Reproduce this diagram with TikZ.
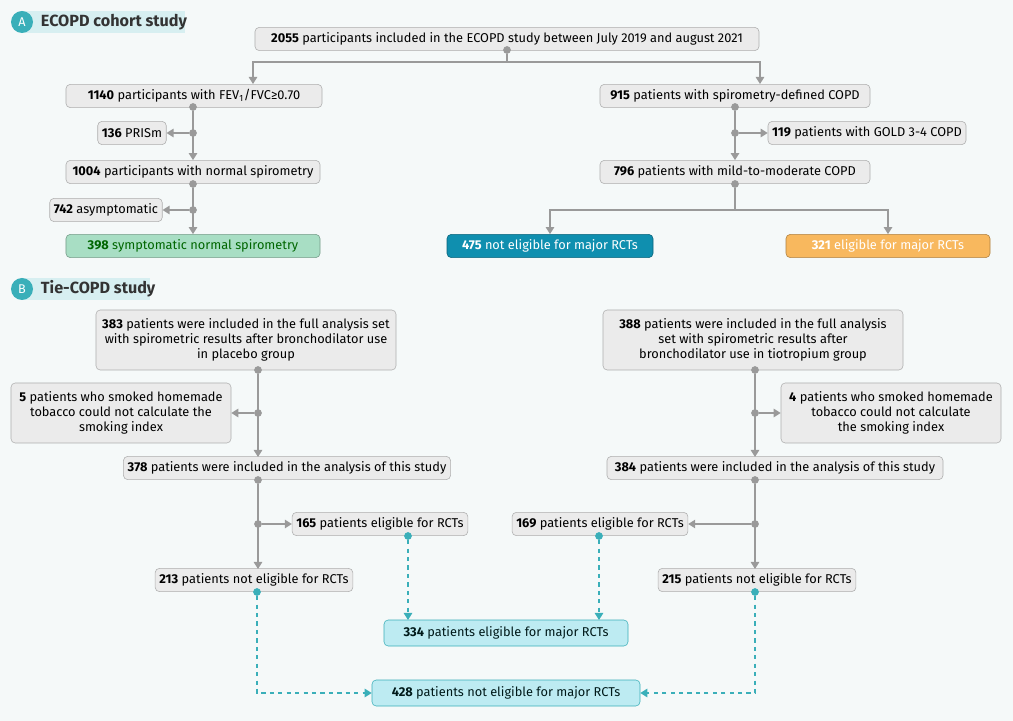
\documentclass[tikz,border=0pt]{standalone}
\usepackage{fontspec}
\setmainfont{Fira Sans}
\usepackage{tikz}
\usetikzlibrary{arrows.meta, positioning}
\definecolor{bgc}{HTML}{F5F9F9}
\definecolor{boxc}{HTML}{EBEBEB}
\definecolor{linec}{HTML}{9A9A9A}
\definecolor{tealc}{HTML}{3AAFB9}
\definecolor{greenc}{HTML}{A8DEC4}
\definecolor{darkc}{HTML}{0F8FAF}
\definecolor{orangec}{HTML}{F8B85E}
\definecolor{cyanc}{HTML}{BDEBF2}
\begin{document}
\begin{tikzpicture}[
    x=0.25mm, y=-0.25mm,
    box/.style={draw=linec!80, fill=boxc, rectangle, rounded corners=3pt, align=center, font=\fontsize{9.1}{10.6}\selectfont, minimum height=5.8mm, inner xsep=3pt},
    arrow/.style={-{Triangle[length=5pt,width=6pt]}, draw=linec, line width=1pt},
    tdash/.style={-{Triangle[length=5pt,width=6pt]}, draw=tealc, line width=1pt, dashed},
    dot/.style={circle, fill=linec, inner sep=0pt, minimum size=5.5pt},
    tdot/.style={circle, fill=tealc, inner sep=0pt, minimum size=5.5pt},
    head/.style={circle, fill=tealc, text=white, inner sep=0pt, minimum size=5.5mm, font=\small},
]
\fill[bgc] (0,0) rectangle (1013,721);
\useasboundingbox (0,0) rectangle (1013,721);

% Headers
\fill[tealc!20] (22,11) rectangle (185,33);
\node[head] (ha) at (22,22) {A};
\node[anchor=west, font=\bfseries\fontsize{11.5}{13}\selectfont, text=black!80] (ta) at (36,22) {ECOPD cohort study};
\fill[tealc!20] (22,278) rectangle (150,300);
\node[head] (hb) at (22,289) {B};
\node[anchor=west, font=\bfseries\fontsize{11.5}{13}\selectfont, text=black!80] (tb) at (36,289) {Tie-COPD study};

% Part A
\node[box, minimum width=126mm] (top) at (507,39) {\textbf{2055} participants included in the ECOPD study between July 2019 and august 2021};
\node[box, minimum width=64mm] (p1140) at (194,96) {\textbf{1140} participants with FEV\textsubscript{1}/FVC≥0.70};
\node[box] (prism) at (132,133) {\textbf{136} PRISm};
\node[box, minimum width=63.5mm] (p1004) at (193,172) {\textbf{1004} participants with normal spirometry};
\node[box] (asym) at (106,210) {\textbf{742} asymptomatic};
\node[box, minimum width=63.5mm, fill=greenc, draw=greenc!70!black, text=green!40!black] (sym) at (193,246) {\textbf{398} symptomatic normal spirometry};
\node[box, minimum width=67.5mm] (p915) at (735,96) {\textbf{915} patients with spirometry-defined COPD};
\node[box] (gold) at (867,133) {\textbf{119} patients with GOLD 3-4 COPD};
\node[box, minimum width=67.5mm] (p796) at (735,172) {\textbf{796} patients with mild-to-moderate COPD};
\node[box, minimum width=51.5mm, fill=darkc, draw=darkc!70!black, text=white] (ne475) at (550,246) {\textbf{475} not eligible for major RCTs};
\node[box, minimum width=51mm, fill=orangec, draw=orangec!70!black, text=white] (el321) at (888,246) {\textbf{321} eligible for major RCTs};

\node[dot] (d0) at (507,50) {};
\draw[arrow] (d0) -- (507,62) -| (253,84);
\draw[arrow] (d0) -- (507,62) -| (760,84);
\node[dot] (d1) at (193,107) {};
\node[dot] (d2) at (193,133) {};
\draw[arrow] (d1) -- (p1004);
\draw[arrow] (d2) -- (prism);
\node[dot] (d3) at (193,184) {};
\node[dot] (d4) at (193,210) {};
\draw[arrow] (d3) -- (sym);
\draw[arrow] (d4) -- (asym);
\node[dot] (d5) at (735,107) {};
\node[dot] (d6) at (735,133) {};
\draw[arrow] (d5) -- (p796);
\draw[arrow] (d6) -- (gold);
\node[dot] (d7) at (735,184) {};
\draw[arrow] (d7) -- (735,210) -| (ne475);
\draw[arrow] (d7) -- (735,210) -| (el321);

% Part B
\node[box, minimum width=75mm, minimum height=15mm] (p383) at (246,340) {\textbf{383} patients were included in the full analysis set\\with spirometric results after bronchodilator use\\in placebo group};
\node[box, minimum width=55mm, minimum height=15mm] (ex5) at (121,413) {\textbf{5} patients who smoked homemade\\tobacco could not calculate the\\smoking index};
\node[box, minimum width=69mm] (p378) at (287,468) {\textbf{378} patients were included in the analysis of this study};
\node[box] (el165) at (380,524) {\textbf{165} patients eligible for RCTs};
\node[box] (ne213) at (254,580) {\textbf{213} patients not eligible for RCTs};
\node[box, minimum width=75mm, minimum height=15mm] (p388) at (753,340) {\textbf{388} patients were included in the full analysis\\set with spirometric results after\\bronchodilator use in tiotropium group};
\node[box, minimum width=55mm, minimum height=15mm] (ex4) at (891,413) {\textbf{4} patients who smoked homemade\\tobacco could not calculate\\the smoking index};
\node[box, minimum width=84mm] (p384) at (775,468) {\textbf{384} patients were included in the analysis of this study};
\node[box] (el169) at (600,524) {\textbf{169} patients eligible for RCTs};
\node[box] (ne215) at (757,580) {\textbf{215} patients not eligible for RCTs};
\node[box, minimum width=61mm, minimum height=6.5mm, fill=cyanc, draw=tealc, text=black!80!teal] (el334) at (506,633) {\textbf{334} patients eligible for major RCTs};
\node[box, minimum width=67mm, minimum height=6.5mm, fill=cyanc, draw=tealc, text=black!80!teal] (ne428) at (506,693) {\textbf{428} patients not eligible for major RCTs};

\node[dot] (b1) at (258,370) {};
\node[dot] (b2) at (258,413) {};
\draw[arrow] (b1) -- (258,457);
\draw[arrow] (b2) -- (ex5);
\node[dot] (b3) at (258,480) {};
\node[dot] (b4) at (258,524) {};
\draw[arrow] (b3) -- (258,569);
\draw[arrow] (b4) -- (el165);
\node[dot] (b5) at (755,370) {};
\node[dot] (b6) at (755,413) {};
\draw[arrow] (b5) -- (755,457);
\draw[arrow] (b6) -- (ex4);
\node[dot] (b7) at (755,480) {};
\node[dot] (b8) at (755,524) {};
\draw[arrow] (b7) -- (755,569);
\draw[arrow] (b8) -- (el169);

\node[tdot] (t1) at (408,536) {};
\node[tdot] (t2) at (599,536) {};
\node[tdot] (t3) at (257,592) {};
\node[tdot] (t4) at (755,592) {};
\draw[tdash] (t1) -- (408,620);
\draw[tdash] (t2) -- (599,620);
\draw[tdash] (t3) |- (ne428);
\draw[tdash] (t4) |- (ne428);
\end{tikzpicture}
\end{document}
